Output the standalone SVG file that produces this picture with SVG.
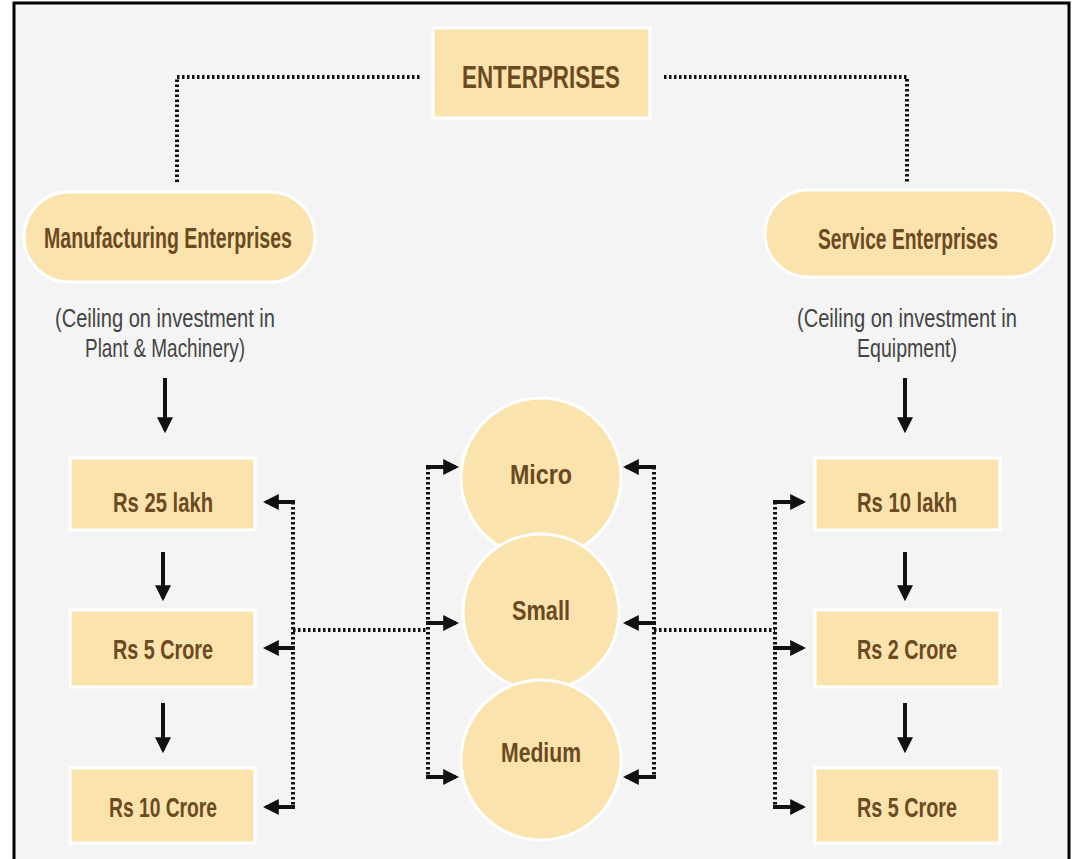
<svg xmlns="http://www.w3.org/2000/svg" width="1083" height="859" viewBox="0 0 1083 859">
<defs>
<style>
.box{fill:#fbe3ad;stroke:#fff;stroke-width:3}
.t{font-family:"Liberation Sans",Arial,sans-serif;font-weight:bold;fill:#6b4a22;text-anchor:middle}
.s{font-family:"Liberation Sans",Arial,sans-serif;fill:#444;text-anchor:middle;font-size:25px}
.dot{fill:none;stroke:#111;stroke-width:4;stroke-dasharray:2.5 2.5}
.ar{stroke:#111;stroke-width:4;fill:none}
</style>
<marker id="ah" viewBox="0 0 10 10" refX="8" refY="5" markerWidth="4" markerHeight="4.5" orient="auto"><path d="M0,0L10,5L0,10z" fill="#111"/></marker>
</defs>
<rect x="0" y="0" width="1083" height="859" fill="#fff"/>
<rect x="14" y="3" width="1055" height="870" fill="#f4f4f4" stroke="#000" stroke-width="3"/>
<g id="connectors">
<path class="dot" d="M177,182V77H422M664,77H907V182"/>
<path class="ar" marker-end="url(#ah)" d="M165,378V430"/>
<path class="ar" marker-end="url(#ah)" d="M905,378V430"/>
<path class="ar" marker-end="url(#ah)" d="M163,552V598"/>
<path class="ar" marker-end="url(#ah)" d="M163,703V750"/>
<path class="ar" marker-end="url(#ah)" d="M905,552V598"/>
<path class="ar" marker-end="url(#ah)" d="M905,703V750"/>
<path class="dot" d="M293,502V807M293,630H428M428,467V777"/>
<path class="dot" d="M654,467V777M654,630H775M775,502V807"/>
<g class="ar">
<path marker-end="url(#ah)" d="M295,502H266"/><path marker-end="url(#ah)" d="M295,648H266"/><path marker-end="url(#ah)" d="M295,807H266"/>
<path marker-end="url(#ah)" d="M426,467H456"/><path marker-end="url(#ah)" d="M426,623H456"/><path marker-end="url(#ah)" d="M426,777H456"/>
<path marker-end="url(#ah)" d="M656,467H626"/><path marker-end="url(#ah)" d="M656,623H626"/><path marker-end="url(#ah)" d="M656,777H626"/>
<path marker-end="url(#ah)" d="M773,502H803"/><path marker-end="url(#ah)" d="M773,648H803"/><path marker-end="url(#ah)" d="M773,807H803"/>
</g>
</g>
<g id="enterprises"><rect class="box" x="433" y="28" width="217" height="90"/><text class="t" x="541" y="88" font-size="32" textLength="158" lengthAdjust="spacingAndGlyphs">ENTERPRISES</text></g>
<g id="manufacturing"><rect class="box" x="24" y="192" width="291" height="90" rx="45"/><text class="t" x="168" y="248" font-size="29" textLength="248" lengthAdjust="spacingAndGlyphs">Manufacturing Enterprises</text>
<text class="s" x="165" y="327" textLength="220" lengthAdjust="spacingAndGlyphs">(Ceiling on investment in</text><text class="s" x="165" y="357" textLength="160" lengthAdjust="spacingAndGlyphs">Plant &amp; Machinery)</text></g>
<g id="service"><rect class="box" x="765" y="190" width="290" height="87" rx="43"/><text class="t" x="908" y="249" font-size="29" textLength="180" lengthAdjust="spacingAndGlyphs">Service Enterprises</text>
<text class="s" x="907" y="327" textLength="220" lengthAdjust="spacingAndGlyphs">(Ceiling on investment in</text><text class="s" x="907" y="357" textLength="100" lengthAdjust="spacingAndGlyphs">Equipment)</text></g>
<g id="m1"><rect class="box" x="70" y="458" width="185" height="72"/><text class="t" x="163" y="512" font-size="28" font-weight="normal" textLength="100" lengthAdjust="spacingAndGlyphs">Rs 25 lakh</text></g>
<g id="m2"><rect class="box" x="70" y="610" width="185" height="77"/><text class="t" x="163" y="659" font-size="28" font-weight="normal" textLength="100" lengthAdjust="spacingAndGlyphs">Rs 5 Crore</text></g>
<g id="m3"><rect class="box" x="70" y="768" width="185" height="75"/><text class="t" x="163" y="817" font-size="28" font-weight="normal" textLength="108" lengthAdjust="spacingAndGlyphs">Rs 10 Crore</text></g>
<g id="s1"><rect class="box" x="815" y="458" width="185" height="72"/><text class="t" x="907" y="512" font-size="28" font-weight="normal" textLength="100" lengthAdjust="spacingAndGlyphs">Rs 10 lakh</text></g>
<g id="s2"><rect class="box" x="815" y="610" width="185" height="77"/><text class="t" x="907" y="659" font-size="28" font-weight="normal" textLength="100" lengthAdjust="spacingAndGlyphs">Rs 2 Crore</text></g>
<g id="s3"><rect class="box" x="815" y="768" width="185" height="75"/><text class="t" x="907" y="817" font-size="28" font-weight="normal" textLength="100" lengthAdjust="spacingAndGlyphs">Rs 5 Crore</text></g>
<g id="micro"><circle class="box" cx="541" cy="478" r="80"/><text class="t" x="541" y="484" font-size="28" textLength="62" lengthAdjust="spacingAndGlyphs">Micro</text></g>
<g id="small"><circle class="box" cx="541" cy="612" r="78"/><text class="t" x="541" y="620" font-size="28" textLength="58" lengthAdjust="spacingAndGlyphs">Small</text></g>
<g id="medium"><circle class="box" cx="541" cy="760" r="80"/><text class="t" x="541" y="762" font-size="28" font-weight="normal" textLength="80" lengthAdjust="spacingAndGlyphs">Medium</text></g>
</svg>
